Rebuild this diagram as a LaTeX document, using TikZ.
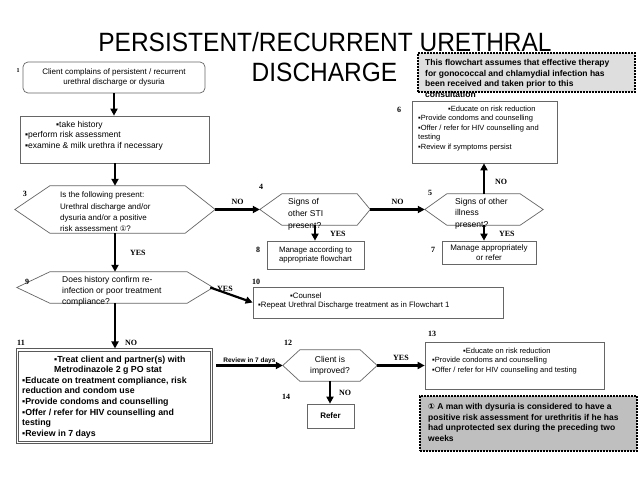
\documentclass[tikz,border=0pt]{standalone}
\usepackage{fontspec}
\setmainfont{Liberation Sans}
\newfontfamily\labfont{Liberation Serif}
\newfontfamily\dejavu{DejaVu Sans}
\usetikzlibrary{arrows.meta}
\tikzset{
  box/.style={draw=black!60, line width=0.7pt, fill=white, inner sep=0},
  hexline/.style={draw=black!60, line width=0.7pt},
  hexa/.style={draw=none, inner sep=0},
  arr/.style={line width=2.2pt, -{Triangle[length=7pt,width=7pt]}},
  lab/.style={inner sep=0, font=\labfont\bfseries\fontsize{8}{9}\selectfont},
  txt/.style={inner sep=0, align=left, anchor=west, font=\fontsize{7.5}{9.5}\selectfont},
  ctxt/.style={inner sep=0, align=center, font=\fontsize{7.5}{9.5}\selectfont},
  note/.style={draw=black, line width=1.6pt, dash pattern=on 1.6pt off 1.4pt, inner sep=0},
  ttl/.style={inner sep=0, font=\fontsize{24.5}{28}\selectfont},
}
\newcommand\hexdraw[3]{%
  \draw[hexline] (#1.west) -- ([xshift=#2]#1.north west) -- ([xshift=-#3]#1.north east)
    -- (#1.east) -- ([xshift=-#3]#1.south east) -- ([xshift=#2]#1.south west) -- cycle;}
\begin{document}
\begin{tikzpicture}[x=1pt,y=-1pt]
\useasboundingbox[fill=white] (0,0) rectangle (638,478);

% title
\node[ttl] (t1) at (325,42.5) {\scalebox{1}[1.08]{PERSISTENT/RECURRENT URETHRAL}};
\node[ttl] (t2) at (324.5,72) {\scalebox{1}[1.08]{DISCHARGE}};

% top note
\node[note, fill=black!13, minimum width=217pt, minimum height=39pt] (tn) at (526.5,72.5) {};
\node[txt, font=\bfseries\fontsize{8.5}{10.6}\selectfont] (tnt) at (425,78.5)
  {This flowchart assumes that effective therapy\\for gonococcal and chlamydial infection has\\been received and taken prior to this\\consultation};

% box 1
\node[box, rounded corners=5pt, minimum width=182pt, minimum height=31pt, align=center,
  font=\fontsize{8}{10.5}\selectfont] (b1) at (114,77.5)
  {Client complains of persistent / recurrent\\urethral discharge or dysuria};
\node[lab, font=\labfont\bfseries\fontsize{6}{7}\selectfont] (l1) at (18,71) {1};

% box 2
\node[box, minimum width=189pt, minimum height=47pt] (b2) at (114.5,139.5) {};
\node[txt, font=\fontsize{8.5}{10.5}\selectfont] (b2t) at (25,135.5)
  {\hspace{31pt}▪take history\\▪perform risk assessment\\▪examine \& milk urethra if necessary};

% hexagon 3
\node[hexa, minimum width=200pt, minimum height=47pt] (h3) at (115,209.5) {};
\hexdraw{h3}{35pt}{30pt}
\node[txt, font=\fontsize{8}{11.3}\selectfont] (h3t) at (60,212)
  {Is the following present:\\Urethral discharge and/or\\dysuria and/or a positive\\risk assessment {\dejavu\fontsize{7.5}{9}\selectfont ①}?};
\node[lab] (l3) at (25,194) {3};

% hexagon 4
\node[hexa, minimum width=110pt, minimum height=31pt] (h4) at (315,209.5) {};
\hexdraw{h4}{22pt}{13pt}
\node[txt, font=\fontsize{8.5}{12}\selectfont] (h4t) at (288,214) {Signs of\\other STI\\present?};
\node[lab] (l4) at (261,187) {4};

% hexagon 5
\node[hexa, minimum width=118pt, minimum height=31pt] (h5) at (484,209.5) {};
\hexdraw{h5}{22pt}{23pt}
\node[txt, font=\fontsize{8.5}{11.5}\selectfont] (h5t) at (455,213.5) {Signs of other\\illness\\present?};
\node[lab] (l5) at (430,193) {5};

% box 6
\node[box, minimum width=145pt, minimum height=62pt] (b6) at (484.5,132) {};
\node[txt] (b6t) at (418,128.5)
  {\hspace{30pt}▪Educate on risk reduction\\▪Provide condoms and counselling\\▪Offer / refer for HIV counselling and\\testing\\▪Review if symptoms persist};
\node[lab] (l6) at (399,110) {6};

% box 7
\node[box, ctxt, font=\fontsize{8}{9.5}\selectfont, minimum width=94pt, minimum height=23pt] (b7) at (489,252.5)
  {Manage appropriately\\or refer};
\node[lab] (l7) at (433,250) {7};

% box 8
\node[box, ctxt, font=\fontsize{7.8}{9.5}\selectfont, minimum width=97pt, minimum height=28pt] (b8) at (315.5,255)
  {Manage according to\\appropriate flowchart};
\node[lab] (l8) at (258,250) {8};

% hexagon 9
\node[hexa, minimum width=196pt, minimum height=31pt] (h9) at (115,287.5) {};
\hexdraw{h9}{33pt}{26pt}
\node[txt, font=\fontsize{8.5}{11}\selectfont] (h9t) at (62,291.5)
  {Does history confirm re-\\infection or poor treatment\\compliance?};
\node[lab] (l9) at (27,282) {9};

% box 10
\node[box, minimum width=250pt, minimum height=31pt] (b10) at (378,302.5) {};
\node[txt, font=\fontsize{7.8}{9.5}\selectfont] (b10t) at (258,301)
  {\hspace{32pt}▪Counsel\\▪Repeat Urethral Discharge treatment as in Flowchart 1};
\node[lab] (l10) at (256,282) {10};

% box 11 (double border)
\node[box, draw=black!65, line width=1pt, minimum width=196pt, minimum height=95pt] (b11) at (114.5,396.5) {};
\draw[draw=black!65, line width=0.9pt] ([shift={(2.8pt,-2.8pt)}]b11.north west) rectangle ([shift={(-2.8pt,2.8pt)}]b11.south east);
\node[txt, font=\bfseries\fontsize{8.8}{10.55}\selectfont] (b11t) at (22,397)
  {\hspace{32pt}▪Treat client and partner(s) with\\\hspace{32pt}Metrodinazole 2 g PO stat\\▪Educate on treatment compliance, risk\\reduction and condom use\\▪Provide condoms and counselling\\▪Offer / refer for HIV counselling and\\testing\\▪Review in 7 days};
\node[lab] (l11) at (21,343) {11};

% hexagon 12
\node[hexa, minimum width=94pt, minimum height=31pt] (h12) at (330,365.5) {};
\hexdraw{h12}{17pt}{17pt}
\node[ctxt, font=\fontsize{8.5}{11}\selectfont] (h12t) at (330,365.5) {Client is\\improved?};
\node[lab] (l12) at (288,343) {12};

% box 13
\node[box, minimum width=179pt, minimum height=47pt] (b13) at (514.5,365.5) {};
\node[txt] (b13t) at (432,361)
  {\hspace{31pt}▪Educate on risk reduction\\▪Provide condoms and counselling\\▪Offer / refer for HIV counselling and testing};
\node[lab] (l13) at (432,334) {13};

% box 14
\node[box, minimum width=47pt, minimum height=24pt, font=\bfseries\fontsize{8}{9}\selectfont] (b14) at (330.5,416) {Refer};
\node[lab] (l14) at (286,397) {14};

% footnote
\node[note, fill=black!25, minimum width=217pt, minimum height=55pt] (fn) at (528.5,423.5) {};
\node[txt, font=\bfseries\fontsize{8.5}{10.7}\selectfont] (fnt) at (428,422.5)
  {{\dejavu\bfseries\fontsize{8}{9}\selectfont ①} A man with dysuria is considered to have a\\positive risk assessment for urethritis if he has\\had unprotected sex during the preceding two\\weeks};

% connectors
\draw[arr] (b1.south) -- (b1.south |- b2.north);
\draw[arr] (b2.south -| h3.north) -- (h3.north);
\draw[arr] (h3.east) -- node[lab, above=4pt] (n1) {NO} (h4.west);
\draw[arr] (h4.east) -- node[lab, above=4pt] (n2) {NO} (h5.west);
\draw[arr] (h5.north) -- node[lab, right=10pt, pos=0.4] (n3) {NO} (h5.north |- b6.south);
\draw[arr] (h5.south) -- node[lab, right=14pt, pos=0.55] (y1) {YES} (h5.south |- b7.north);
\draw[arr] (h4.south) -- node[lab, right=14pt, pos=0.55] (y2) {YES} (h4.south |- b8.north);
\draw[arr] (h3.south) -- node[lab, right=14pt] (y3) {YES} (h9.north);
\draw[arr] ([xshift=-3pt]h9.east) -- (b10.west);
\node[lab] (y4) at (225,289) {YES};
\draw[arr] (h9.south) -- (h9.south |- b11.north);
\node[lab] (n4) at (131,343) {NO};
\draw[arr] ([xshift=3pt]b11.east |- h12.west) -- node[above=1pt, inner sep=0, font=\bfseries\fontsize{6.5}{8}\selectfont] (rv) {Review in 7 days} (h12.west);
\draw[arr] (h12.east) -- node[lab, above=4pt] (y5) {YES} (b13.west);
\draw[arr] (h12.south) -- node[lab, right=8pt] (n5) {NO} (h12.south |- b14.north);
\end{tikzpicture}
\end{document}
